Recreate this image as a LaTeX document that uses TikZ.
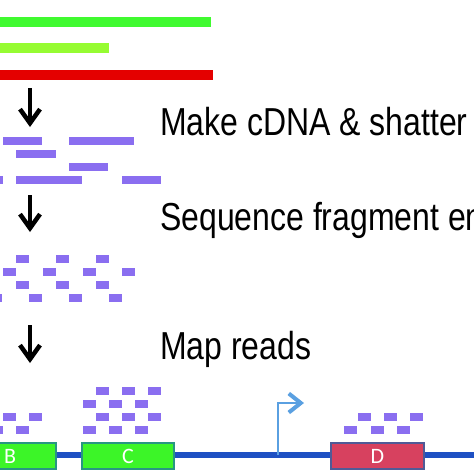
\documentclass[tikz,border=0pt]{standalone}
\usepackage{fontspec}
\setmainfont{Liberation Sans}
\newfontfamily\stepfont{Liberation Sans}[FakeStretch=0.82]
\newfontfamily\exonfont{Carlito}
\usetikzlibrary{positioning, arrows.meta}

\definecolor{txgreen}{RGB}{64,250,48}
\definecolor{txlime}{RGB}{150,252,50}
\definecolor{txred}{RGB}{228,0,0}
\definecolor{readcol}{RGB}{138,110,240}
\definecolor{genecol}{RGB}{30,80,195}
\definecolor{exgreen}{RGB}{60,245,40}
\definecolor{exrose}{RGB}{215,65,95}
\definecolor{tsscol}{RGB}{90,160,225}
\definecolor{exgreenline}{RGB}{40,150,130}
\definecolor{exroseline}{RGB}{80,90,150}

\begin{document}
\begin{tikzpicture}[
    x=1pt, y=-1pt,
    steplabel/.style={anchor=base west, inner sep=0pt, font=\stepfont\fontsize{39}{44}\selectfont},
    flow/.style={-{Straight Barb[length=14pt, width=20pt, line width=4.5pt]}, line width=4pt},
    frag/.style={fill=readcol},
    exon/.style={draw=#1, line width=1.5pt, minimum width=92pt, minimum height=26pt, inner sep=0pt, text=white, font=\exonfont\fontsize{22}{24}\selectfont},
    promoter/.style={draw=tsscol, line width=2pt, -{Straight Barb[length=12pt, width=19pt, line width=4pt]}}
  ]
    \useasboundingbox (0,0) rectangle (474,474);
    \clip (0,0) rectangle (474,474);
    \fill[white] (0,0) rectangle (474,474);

    % transcripts
    \fill[txgreen] (0,17) rectangle (211,27);
    \fill[txlime] (0,43) rectangle (109,53);
    \fill[txred] (0,70) rectangle (213,80);

    % step arrows
    \coordinate (s1a) at (30,88);
    \coordinate (s1b) at (30,127);
    \coordinate (s2a) at (30,195);
    \coordinate (s2b) at (30,232);
    \coordinate (s3a) at (30,325);
    \coordinate (s3b) at (30,363);
    \draw[flow] (s1a) -- (s1b);
    \draw[flow] (s2a) -- (s2b);
    \draw[flow] (s3a) -- (s3b);

    \node[steplabel] (shatter) at (160,135) {Make cDNA \& shatter};
    \node[steplabel] (seqends) at (160,230) {Sequence fragment ends};
    \node[steplabel] (mapreads) at (160,359) {Map reads};

    % cDNA fragments
    \foreach \xa/\xb/\yy in {3/42/137, 69/134/137, 16/56/150, 69/108/163,
                             -5/3/176, 16/82/176, 122/161/176}
      \fill[frag] (\xa,\yy) rectangle (\xb,\yy+7.5);

    % sequenced ends
    \foreach \yy/\xs in {255/{16,56,96}, 268/{3,43,83,122}, 281/{16,56,96}, 294/{-11,29,69,109}}
      \foreach \xx in \xs
        \fill[frag] (\xx,\yy) rectangle (\xx+13,\yy+8);

    % gene model
    \coordinate (geneL) at (0,455);
    \coordinate (geneR) at (474,455);
    \draw[genecol, line width=6pt] (geneL) -- (geneR);

    \coordinate (tss) at (278,455);
    \coordinate (tssend) at (304,403);
    \draw[promoter] (tss) |- (tssend);

    \node[exon=exgreenline, fill=exgreen] (exB) at (10,456) {B};
    \node[exon=exgreenline, fill=exgreen] (exC) at (128,456) {C};
    \node[exon=exroseline, fill=exrose, minimum width=93pt] (exD) at (377.5,456) {D};

    % mapped reads
    \foreach \yy/\xs in {413/{3,29}, 426/{-10,16},
                         387/{96,122,148}, 400/{83,109,135}, 413/{96,122,148}, 426/{83,109,135},
                         413/{358,384,410}, 426/{344,371,397}}
      \foreach \xx in \xs
        \fill[frag] (\xx,\yy) rectangle (\xx+13,\yy+8);
  \end{tikzpicture}
\end{document}
